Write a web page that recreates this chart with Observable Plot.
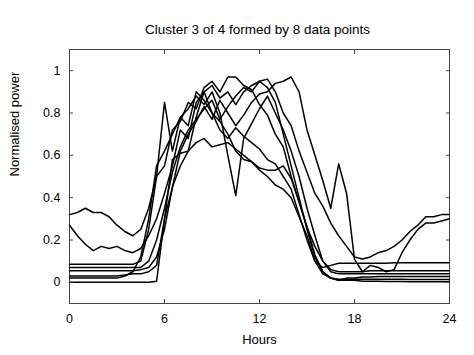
<!DOCTYPE html>
<html>
<head>
<meta charset="utf-8">
<script src="https://cdn.jsdelivr.net/npm/d3@7"></script>
<script src="https://cdn.jsdelivr.net/npm/@observablehq/plot@0.6"></script>
<style>
  html, body { margin: 0; padding: 0; background: #fff; }
</style>
</head>
<body>
<div id="chart"></div>
<script>
const title = "Cluster 3 of 4 formed by 8 data points";
const xLabel = "Hours";
const yLabel = "Normalised power";
const xTicks = [0, 6, 12, 18, 24];
const yTicks = [0, 0.2, 0.4, 0.6, 0.8, 1];

const hours = [0,0.5,1,1.5,2,2.5,3,3.5,4,4.5,5,5.5,6,6.5,7,7.5,8,8.5,9,9.5,10,10.5,11,11.5,12,12.5,13,13.5,14,14.5,15,15.5,16,16.5,17,17.5,18,18.5,19,19.5,20,20.5,21,21.5,22,22.5,23,23.5,24];

const s1 = [0.32,0.33,0.35,0.33,0.33,0.31,0.27,0.24,0.22,0.25,
  0.35,0.50,0.55,0.72,0.76,0.85,0.82,0.92,0.95,0.90,
  0.97,0.97,0.93,0.91,0.84,0.79,0.70,0.64,0.50,0.38,
  0.26,0.13,0.05,0.02,0.01,0.01,0.01,0.005,0.005,0.005,
  0.004,0.004,0.004,0.003,0.003,0.003,0.003,0.003,0.003];
const s2 = [0.27,0.22,0.18,0.15,0.17,0.16,0.17,0.15,0.14,0.16,
  0.22,0.30,0.42,0.55,0.72,0.68,0.85,0.90,0.80,0.76,
  0.70,0.62,0.58,0.57,0.53,0.50,0.46,0.44,0.40,0.31,
  0.22,0.10,0.04,0.02,0.015,0.015,0.015,0.015,0.015,0.015,
  0.014,0.014,0.014,0.013,0.013,0.013,0.013,0.013,0.013];
const s3 = [0.085,0.085,0.085,0.085,0.085,0.085,0.085,0.085,0.085,0.10,
  0.25,0.50,0.85,0.62,0.78,0.74,0.90,0.86,0.80,0.72,
  0.68,0.73,0.69,0.66,0.63,0.58,0.56,0.50,0.44,0.32,
  0.20,0.10,0.07,0.08,0.09,0.09,0.09,0.09,0.09,0.09,
  0.09,0.093,0.093,0.093,0.093,0.093,0.093,0.093,0.093];
const s4 = [0.07,0.07,0.07,0.07,0.07,0.07,0.07,0.07,0.07,0.07,
  0.10,0.20,0.35,0.52,0.64,0.72,0.77,0.82,0.86,0.77,
  0.83,0.88,0.92,0.90,0.95,0.96,0.90,0.80,0.74,0.62,
  0.52,0.42,0.36,0.28,0.22,0.17,0.12,0.11,0.12,0.14,
  0.15,0.17,0.20,0.24,0.27,0.31,0.31,0.32,0.32];
const s5 = [0.055,0.055,0.055,0.055,0.055,0.055,0.055,0.055,0.055,0.06,
  0.07,0.12,0.25,0.45,0.62,0.70,0.76,0.83,0.77,0.86,
  0.80,0.74,0.79,0.85,0.89,0.90,0.94,0.95,0.97,0.90,
  0.72,0.60,0.48,0.35,0.56,0.42,0.11,0.05,0.08,0.07,
  0.05,0.06,0.14,0.20,0.25,0.28,0.28,0.29,0.30];
const s6 = [0.03,0.03,0.03,0.03,0.03,0.03,0.03,0.035,0.04,0.04,
  0.05,0.08,0.30,0.58,0.61,0.62,0.66,0.68,0.64,0.65,
  0.66,0.63,0.60,0.57,0.54,0.53,0.53,0.55,0.49,0.38,
  0.26,0.17,0.10,0.06,0.05,0.05,0.05,0.05,0.055,0.055,
  0.055,0.055,0.055,0.055,0.055,0.055,0.055,0.055,0.055];
const s7 = [0.02,0.02,0.02,0.02,0.02,0.02,0.02,0.03,0.05,0.12,
  0.30,0.55,0.62,0.70,0.78,0.82,0.88,0.84,0.90,0.80,
  0.60,0.41,0.68,0.75,0.82,0.88,0.80,0.72,0.62,0.50,
  0.35,0.22,0.10,0.05,0.04,0.04,0.04,0.04,0.04,0.04,
  0.04,0.04,0.04,0.04,0.04,0.04,0.04,0.04,0.04];
const s8 = [0.0,0.0,0.0,0.0,0.0,0.0,0.0,0.0,0.0,0.0,
  0.0,0.005,0.30,0.45,0.55,0.62,0.78,0.90,0.93,0.87,
  0.90,0.84,0.90,0.93,0.95,0.92,0.85,0.70,0.55,0.40,
  0.25,0.12,0.05,0.02,0.01,0.02,0.02,0.025,0.025,0.027,
  0.027,0.027,0.027,0.027,0.027,0.027,0.027,0.027,0.027];

const seriesList = [s1, s2, s3, s4, s5, s6, s7, s8];
const rows = seriesList.flatMap((vals, k) =>
  vals.map((v, i) => ({series: k, hour: hours[i], value: v}))
);

const blank = () => "";

const chart = Plot.plot({
  width: 474,
  height: 355,
  marginLeft: 69,
  marginRight: 25,
  marginTop: 49,
  marginBottom: 52,
  style: {fontFamily: "'Liberation Sans', Arial, sans-serif", fontSize: "12.5px", background: "#fff", color: "#000"},
  x: {domain: [0, 24]},
  y: {domain: [-0.1, 1.1]},
  marks: [
    Plot.frame({stroke: "#444", strokeWidth: 1}),
    Plot.line(rows, {x: "hour", y: "value", z: "series", stroke: "#000", strokeWidth: 1.5, strokeLinejoin: "round"}),
    Plot.axisX({anchor: "bottom", ticks: xTicks, tickSize: 0, tickPadding: 11, label: null, fontSize: 12.5}),
    Plot.axisX({anchor: "bottom", ticks: xTicks, tickSize: -4, tickFormat: blank, label: null, stroke: "#444"}),
    Plot.axisX({anchor: "top", ticks: xTicks, tickSize: -4, tickFormat: blank, label: null, stroke: "#444"}),
    Plot.axisY({anchor: "left", ticks: yTicks, tickSize: 0, tickPadding: 9, label: null, tickFormat: d => String(d), fontSize: 12.5}),
    Plot.axisY({anchor: "left", ticks: yTicks, tickSize: -4, tickFormat: blank, label: null, stroke: "#444"}),
    Plot.axisY({anchor: "right", ticks: yTicks, tickSize: -4, tickFormat: blank, label: null, stroke: "#444"}),
    Plot.text([title], {text: d => d, frameAnchor: "top", dy: -25, dx: -2, fontSize: 13.5}),
    Plot.text([xLabel], {text: d => d, frameAnchor: "bottom", dy: 40, fontSize: 13}),
    Plot.text([yLabel], {text: d => d, frameAnchor: "left", dx: -55, rotate: -90, fontSize: 13})
  ]
});
document.getElementById("chart").appendChild(chart);
</script>
</body>
</html>
